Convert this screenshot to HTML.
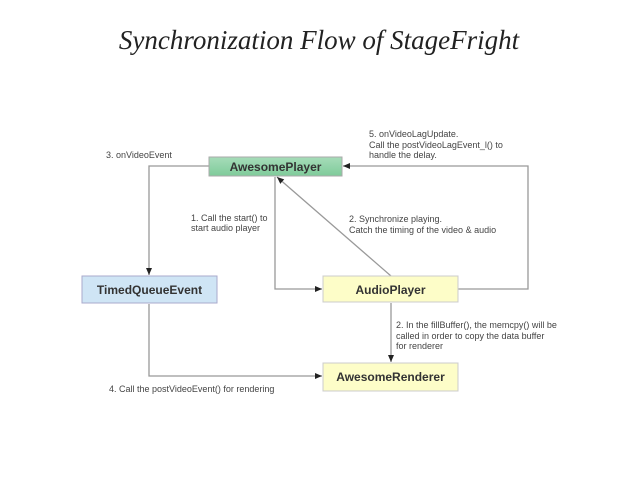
<!DOCTYPE html>
<html><head><style>
body{margin:0;background:#fff;}
svg text{font-family:"Liberation Sans",sans-serif;}
</style></head><body>
<svg width="638" height="478" viewBox="0 0 638 478" xmlns="http://www.w3.org/2000/svg">
<defs>
<linearGradient id="g" x1="0" y1="0" x2="0" y2="1"><stop offset="0" stop-color="#a6dcb9"/><stop offset="1" stop-color="#7fcb9a"/></linearGradient>
<marker id="a" markerWidth="8" markerHeight="8" refX="7" refY="4" orient="auto" markerUnits="userSpaceOnUse"><path d="M0,1 L7,4 L0,7 z" fill="#222"/></marker>
</defs>
<text x="319" y="49" text-anchor="middle" style="font-family:'Liberation Serif',serif;font-style:italic" font-size="27" fill="#222">Synchronization Flow of StageFright</text>
<g stroke="#999" stroke-width="1.3" fill="none">
<polyline points="209,166 149,166 149,275" marker-end="url(#a)"/>
<polyline points="458,289 528,289 528,166 343,166" marker-end="url(#a)"/>
<polyline points="275,177 275,289 322,289" marker-end="url(#a)"/>
<line x1="391" y1="276" x2="277" y2="177" marker-end="url(#a)"/>
<line x1="391" y1="303" x2="391" y2="362" marker-end="url(#a)"/>
<polyline points="149,304 149,376 322,376" marker-end="url(#a)"/>
</g>
<rect x="209" y="157" width="133" height="19" fill="url(#g)" stroke="#aaa"/>
<text x="275.5" y="171" text-anchor="middle" font-size="12" font-weight="bold" fill="#333">AwesomePlayer</text>
<rect x="82" y="276" width="135" height="27" fill="#cfe5f5" stroke="#aac"/>
<text x="149.5" y="294" text-anchor="middle" font-size="12" font-weight="bold" fill="#333">TimedQueueEvent</text>
<rect x="323" y="276" width="135" height="26" fill="#fdfdc8" stroke="#ccc"/>
<text x="390.5" y="294" text-anchor="middle" font-size="12" font-weight="bold" fill="#333">AudioPlayer</text>
<rect x="323" y="363" width="135" height="28" fill="#fdfdc8" stroke="#ccc"/>
<text x="390.5" y="381" text-anchor="middle" font-size="12" font-weight="bold" fill="#333">AwesomeRenderer</text>
<g font-size="9" fill="#444">
<text x="106" y="158">3. onVideoEvent</text>
<text x="369" y="137">5. onVideoLagUpdate.</text>
<text x="369" y="148">Call the postVideoLagEvent_l() to</text>
<text x="369" y="158">handle the delay.</text>
<text x="191" y="221">1. Call the start() to</text>
<text x="191" y="231">start audio player</text>
<text x="349" y="222">2. Synchronize playing.</text>
<text x="349" y="233">Catch the timing of the video &amp; audio</text>
<text x="396" y="328">2. In the fillBuffer(), the memcpy() will be</text>
<text x="396" y="339">called in order to copy the data buffer</text>
<text x="396" y="349">for renderer</text>
<text x="109" y="392">4. Call the postVideoEvent() for rendering</text>
</g>
</svg>
</body></html>
